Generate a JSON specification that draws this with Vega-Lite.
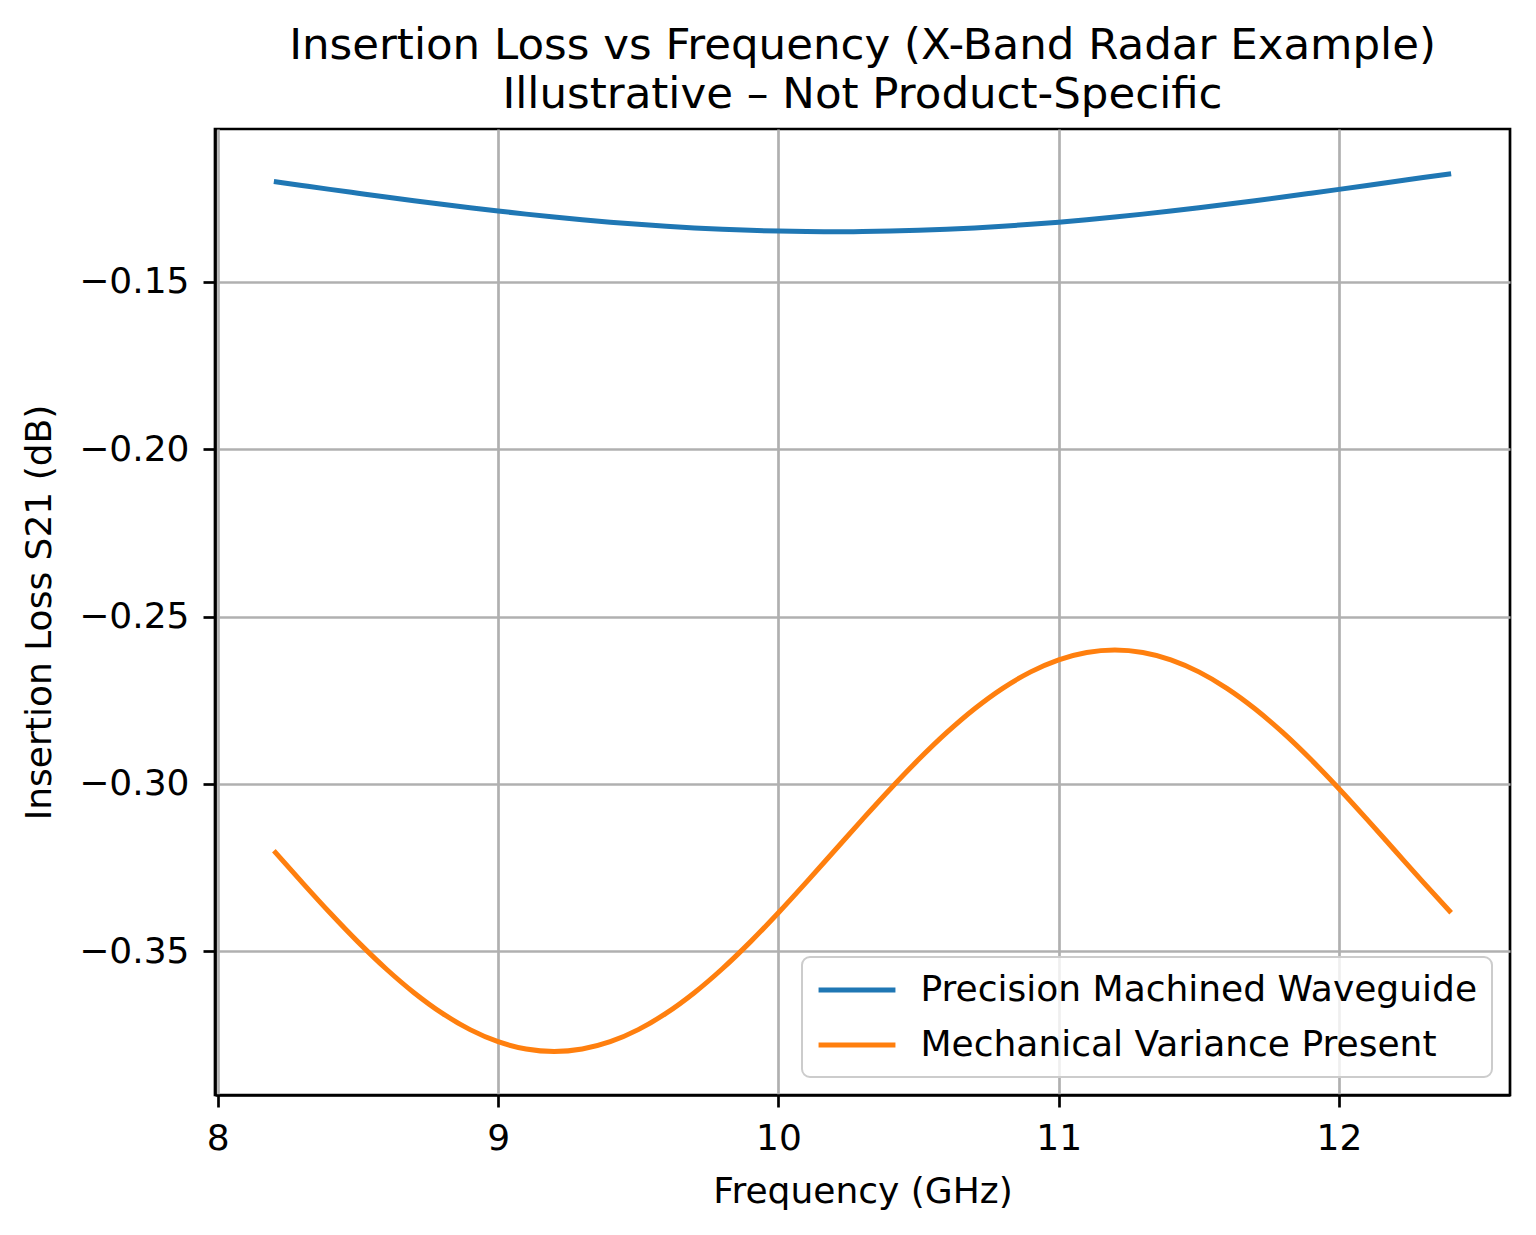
{
  "$schema": "https://vega.github.io/schema/vega-lite/v6.json",
  "autosize": "none",
  "width": 1295,
  "height": 966,
  "padding": {"left": 215, "top": 129, "right": 26, "bottom": 140},
  "background": "white",
  "title": {
    "text": ["Insertion Loss vs Frequency (X-Band Radar Example)", "Illustrative – Not Product-Specific"],
    "font": "DejaVu Sans",
    "fontSize": 43.5,
    "fontWeight": "normal",
    "color": "black",
    "lineHeight": 49,
    "anchor": "middle",
    "offset": 12
  },
  "config": {
    "view": {"stroke": "black", "strokeWidth": 2.7},
    "axis": {
      "labelFont": "DejaVu Sans",
      "labelFontSize": 36,
      "labelColor": "black",
      "titleFont": "DejaVu Sans",
      "titleFontSize": 36,
      "titleFontWeight": "normal",
      "titleColor": "black",
      "domainColor": "black",
      "domainWidth": 2.7,
      "tickColor": "black",
      "tickWidth": 2.7,
      "tickSize": 12,
      "labelPadding": 14,
      "gridColor": "#b0b0b0",
      "gridWidth": 2.7
    },
    "legend": {
      "labelFont": "DejaVu Sans",
      "labelFontSize": 36,
      "labelColor": "black",
      "labelLimit": 0
    }
  },
  "data": {
    "values": [
      {"freq": 8.2, "loss": -0.12, "series": "Precision Machined Waveguide"},
      {"freq": 8.3, "loss": -0.12118, "series": "Precision Machined Waveguide"},
      {"freq": 8.4, "loss": -0.12235, "series": "Precision Machined Waveguide"},
      {"freq": 8.5, "loss": -0.1235, "series": "Precision Machined Waveguide"},
      {"freq": 8.6, "loss": -0.12464, "series": "Precision Machined Waveguide"},
      {"freq": 8.7, "loss": -0.12574, "series": "Precision Machined Waveguide"},
      {"freq": 8.8, "loss": -0.12681, "series": "Precision Machined Waveguide"},
      {"freq": 8.9, "loss": -0.12784, "series": "Precision Machined Waveguide"},
      {"freq": 9.0, "loss": -0.12882, "series": "Precision Machined Waveguide"},
      {"freq": 9.1, "loss": -0.12974, "series": "Precision Machined Waveguide"},
      {"freq": 9.2, "loss": -0.13061, "series": "Precision Machined Waveguide"},
      {"freq": 9.3, "loss": -0.13141, "series": "Precision Machined Waveguide"},
      {"freq": 9.4, "loss": -0.13214, "series": "Precision Machined Waveguide"},
      {"freq": 9.5, "loss": -0.13279, "series": "Precision Machined Waveguide"},
      {"freq": 9.6, "loss": -0.13337, "series": "Precision Machined Waveguide"},
      {"freq": 9.7, "loss": -0.13386, "series": "Precision Machined Waveguide"},
      {"freq": 9.8, "loss": -0.13427, "series": "Precision Machined Waveguide"},
      {"freq": 9.9, "loss": -0.13459, "series": "Precision Machined Waveguide"},
      {"freq": 10.0, "loss": -0.13482, "series": "Precision Machined Waveguide"},
      {"freq": 10.1, "loss": -0.13495, "series": "Precision Machined Waveguide"},
      {"freq": 10.2, "loss": -0.135, "series": "Precision Machined Waveguide"},
      {"freq": 10.3, "loss": -0.13495, "series": "Precision Machined Waveguide"},
      {"freq": 10.4, "loss": -0.13482, "series": "Precision Machined Waveguide"},
      {"freq": 10.5, "loss": -0.13459, "series": "Precision Machined Waveguide"},
      {"freq": 10.6, "loss": -0.13427, "series": "Precision Machined Waveguide"},
      {"freq": 10.7, "loss": -0.13386, "series": "Precision Machined Waveguide"},
      {"freq": 10.8, "loss": -0.13337, "series": "Precision Machined Waveguide"},
      {"freq": 10.9, "loss": -0.13279, "series": "Precision Machined Waveguide"},
      {"freq": 11.0, "loss": -0.13214, "series": "Precision Machined Waveguide"},
      {"freq": 11.1, "loss": -0.13141, "series": "Precision Machined Waveguide"},
      {"freq": 11.2, "loss": -0.13061, "series": "Precision Machined Waveguide"},
      {"freq": 11.3, "loss": -0.12974, "series": "Precision Machined Waveguide"},
      {"freq": 11.4, "loss": -0.12882, "series": "Precision Machined Waveguide"},
      {"freq": 11.5, "loss": -0.12784, "series": "Precision Machined Waveguide"},
      {"freq": 11.6, "loss": -0.12681, "series": "Precision Machined Waveguide"},
      {"freq": 11.7, "loss": -0.12574, "series": "Precision Machined Waveguide"},
      {"freq": 11.8, "loss": -0.12464, "series": "Precision Machined Waveguide"},
      {"freq": 11.9, "loss": -0.1235, "series": "Precision Machined Waveguide"},
      {"freq": 12.0, "loss": -0.12235, "series": "Precision Machined Waveguide"},
      {"freq": 12.1, "loss": -0.12118, "series": "Precision Machined Waveguide"},
      {"freq": 12.2, "loss": -0.12, "series": "Precision Machined Waveguide"},
      {"freq": 12.3, "loss": -0.11882, "series": "Precision Machined Waveguide"},
      {"freq": 12.4, "loss": -0.11765, "series": "Precision Machined Waveguide"},
      {"freq": 8.2, "loss": -0.32, "series": "Mechanical Variance Present"},
      {"freq": 8.3, "loss": -0.32938, "series": "Mechanical Variance Present"},
      {"freq": 8.4, "loss": -0.33854, "series": "Mechanical Variance Present"},
      {"freq": 8.5, "loss": -0.34724, "series": "Mechanical Variance Present"},
      {"freq": 8.6, "loss": -0.35527, "series": "Mechanical Variance Present"},
      {"freq": 8.7, "loss": -0.36243, "series": "Mechanical Variance Present"},
      {"freq": 8.8, "loss": -0.36854, "series": "Mechanical Variance Present"},
      {"freq": 8.9, "loss": -0.37346, "series": "Mechanical Variance Present"},
      {"freq": 9.0, "loss": -0.37707, "series": "Mechanical Variance Present"},
      {"freq": 9.1, "loss": -0.37926, "series": "Mechanical Variance Present"},
      {"freq": 9.2, "loss": -0.38, "series": "Mechanical Variance Present"},
      {"freq": 9.3, "loss": -0.37926, "series": "Mechanical Variance Present"},
      {"freq": 9.4, "loss": -0.37707, "series": "Mechanical Variance Present"},
      {"freq": 9.5, "loss": -0.37346, "series": "Mechanical Variance Present"},
      {"freq": 9.6, "loss": -0.36854, "series": "Mechanical Variance Present"},
      {"freq": 9.7, "loss": -0.36243, "series": "Mechanical Variance Present"},
      {"freq": 9.8, "loss": -0.35527, "series": "Mechanical Variance Present"},
      {"freq": 9.9, "loss": -0.34724, "series": "Mechanical Variance Present"},
      {"freq": 10.0, "loss": -0.33854, "series": "Mechanical Variance Present"},
      {"freq": 10.1, "loss": -0.32938, "series": "Mechanical Variance Present"},
      {"freq": 10.2, "loss": -0.32, "series": "Mechanical Variance Present"},
      {"freq": 10.3, "loss": -0.31062, "series": "Mechanical Variance Present"},
      {"freq": 10.4, "loss": -0.30146, "series": "Mechanical Variance Present"},
      {"freq": 10.5, "loss": -0.29276, "series": "Mechanical Variance Present"},
      {"freq": 10.6, "loss": -0.28473, "series": "Mechanical Variance Present"},
      {"freq": 10.7, "loss": -0.27757, "series": "Mechanical Variance Present"},
      {"freq": 10.8, "loss": -0.27146, "series": "Mechanical Variance Present"},
      {"freq": 10.9, "loss": -0.26654, "series": "Mechanical Variance Present"},
      {"freq": 11.0, "loss": -0.26293, "series": "Mechanical Variance Present"},
      {"freq": 11.1, "loss": -0.26074, "series": "Mechanical Variance Present"},
      {"freq": 11.2, "loss": -0.26, "series": "Mechanical Variance Present"},
      {"freq": 11.3, "loss": -0.26074, "series": "Mechanical Variance Present"},
      {"freq": 11.4, "loss": -0.26293, "series": "Mechanical Variance Present"},
      {"freq": 11.5, "loss": -0.26654, "series": "Mechanical Variance Present"},
      {"freq": 11.6, "loss": -0.27146, "series": "Mechanical Variance Present"},
      {"freq": 11.7, "loss": -0.27757, "series": "Mechanical Variance Present"},
      {"freq": 11.8, "loss": -0.28473, "series": "Mechanical Variance Present"},
      {"freq": 11.9, "loss": -0.29276, "series": "Mechanical Variance Present"},
      {"freq": 12.0, "loss": -0.30146, "series": "Mechanical Variance Present"},
      {"freq": 12.1, "loss": -0.31062, "series": "Mechanical Variance Present"},
      {"freq": 12.2, "loss": -0.32, "series": "Mechanical Variance Present"},
      {"freq": 12.3, "loss": -0.32938, "series": "Mechanical Variance Present"},
      {"freq": 12.4, "loss": -0.33854, "series": "Mechanical Variance Present"}
    ]
  },
  "mark": {"type": "line", "strokeWidth": 5, "interpolate": "monotone", "clip": true},
  "encoding": {
    "x": {
      "field": "freq",
      "type": "quantitative",
      "title": "Frequency (GHz)",
      "scale": {"domain": [7.99, 12.61], "nice": false, "zero": false},
      "axis": {"values": [8, 9, 10, 11, 12], "format": "d", "titlePadding": 18}
    },
    "y": {
      "field": "loss",
      "type": "quantitative",
      "title": "Insertion Loss S21 (dB)",
      "scale": {"domain": [-0.393, -0.1043], "nice": false, "zero": false},
      "axis": {"values": [-0.35, -0.3, -0.25, -0.2, -0.15], "format": ".2f", "titlePadding": 20}
    },
    "color": {
      "field": "series",
      "type": "nominal",
      "sort": ["Precision Machined Waveguide", "Mechanical Variance Present"],
      "scale": {
        "domain": ["Precision Machined Waveguide", "Mechanical Variance Present"],
        "range": ["#1f77b4", "#ff7f0e"]
      },
      "legend": {
        "title": null,
        "orient": "bottom-right",
        "offset": 18,
        "symbolType": "M-2.33,0H2.33",
        "symbolSize": 1089,
        "symbolStrokeWidth": 5,
        "symbolOffset": 22,
        "labelOffset": 44.5,
        "rowPadding": 18,
        "padding": 14,
        "fillColor": "rgba(255,255,255,0.8)",
        "strokeColor": "#cccccc",
        "cornerRadius": 8,
        "encode": {"legend": {"update": {"strokeWidth": {"value": 2}}}}
      }
    }
  }
}
